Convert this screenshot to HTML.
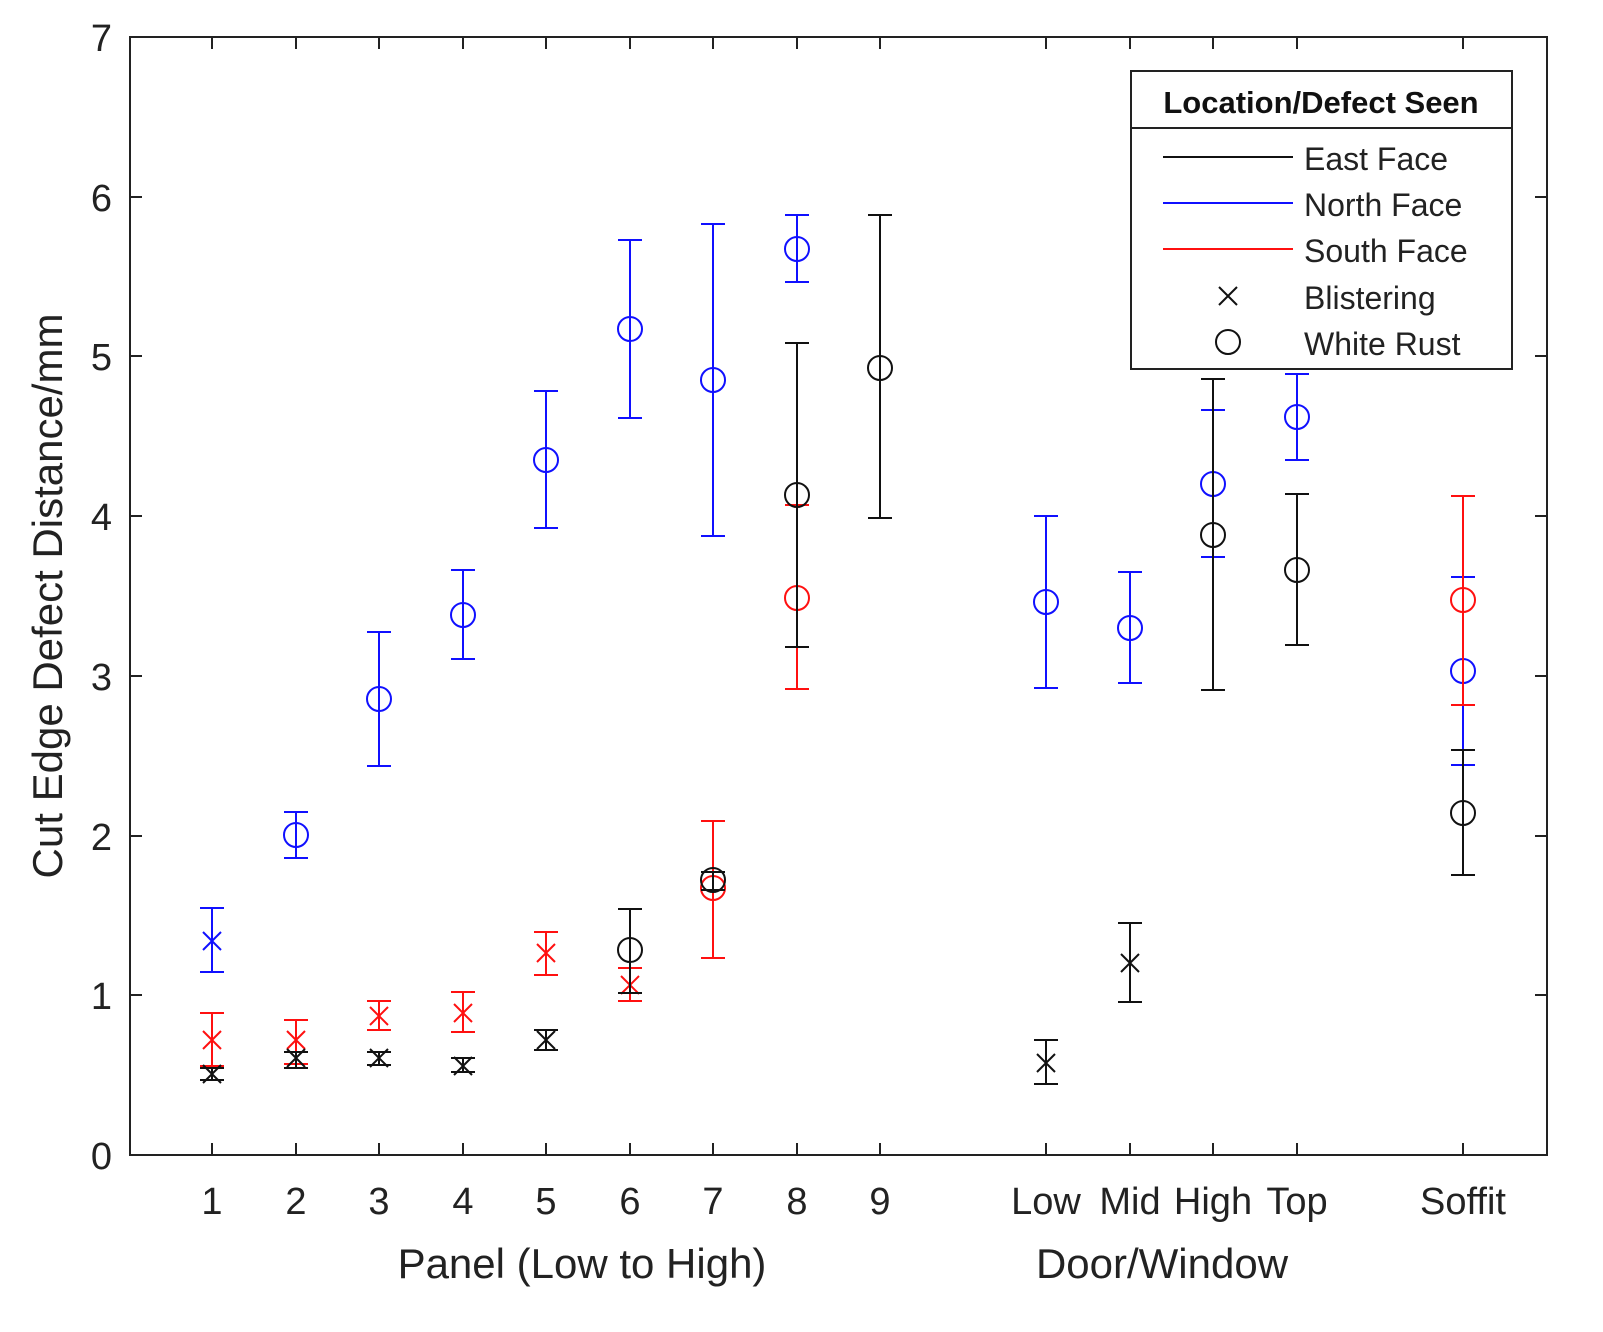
<!DOCTYPE html>
<html><head><meta charset="utf-8"><style>body{margin:0;background:#fff}svg{display:block}</style></head><body>
<svg width="1603" height="1332" viewBox="0 0 1603 1332" xmlns="http://www.w3.org/2000/svg" font-family="Liberation Sans, sans-serif">
<rect width="1603" height="1332" fill="#fff"/>
<g stroke="#222" stroke-width="2" fill="none">
<rect x="130" y="37" width="1417" height="1118"/>
<!-- y ticks -->
<path d="M130 995h12M130 836h12M130 676h12M130 516h12M130 356h12M130 197h12M1547 995h-12M1547 836h-12M1547 676h-12M1547 516h-12M1547 356h-12M1547 197h-12"/>
<!-- x ticks -->
<path d="M212 1155v-12M296 1155v-12M379 1155v-12M463 1155v-12M546 1155v-12M630 1155v-12M713 1155v-12M797 1155v-12M880 1155v-12M1046 1155v-12M1130 1155v-12M1213 1155v-12M1297 1155v-12M1463 1155v-12
M212 37v12M296 37v12M379 37v12M463 37v12M546 37v12M630 37v12M713 37v12M797 37v12M880 37v12M1046 37v12M1130 37v12M1213 37v12M1297 37v12M1463 37v12"/>
</g>
<g font-size="38" fill="#222" text-anchor="end">
<text x="112" y="1169">0</text><text x="112" y="1009">1</text><text x="112" y="850">2</text><text x="112" y="690">3</text><text x="112" y="530">4</text><text x="112" y="370">5</text><text x="112" y="211">6</text><text x="112" y="51">7</text>
</g>
<g font-size="38" fill="#222" text-anchor="middle">
<text x="212" y="1214">1</text><text x="296" y="1214">2</text><text x="379" y="1214">3</text><text x="463" y="1214">4</text><text x="546" y="1214">5</text><text x="630" y="1214">6</text><text x="713" y="1214">7</text><text x="797" y="1214">8</text><text x="880" y="1214">9</text>
<text x="1046" y="1214">Low</text><text x="1130" y="1214">Mid</text><text x="1213" y="1214">High</text><text x="1297" y="1214">Top</text><text x="1463" y="1214">Soffit</text>
<text x="582" y="1278" font-size="42">Panel (Low to High)</text>
<text x="1162" y="1278" font-size="42">Door/Window</text>
<text transform="translate(62 596) rotate(-90)" font-size="42">Cut Edge Defect Distance/mm</text>
</g>
<defs>
<g id="x"><path d="M-9 -9L9 9M-9 9L9 -9"/></g>
<g id="o"><circle r="12"/></g>
</defs>
<g fill="none" stroke-width="2">
<!-- Blue -->
<g stroke="#1010ff">
<path d="M212 908v64M200 908h24M200 972h24
M296 812v46M284 812h24M284 858h24
M379 632v134M367 632h24M367 766h24
M463 570v89M451 570h24M451 659h24
M546 391v137M534 391h24M534 528h24
M630 240v178M618 240h24M618 418h24
M713 224v312M701 224h24M701 536h24
M797 215v67M785 215h24M785 282h24
M1046 516v172M1034 516h24M1034 688h24
M1130 572v111M1118 572h24M1118 683h24
M1213 410v147M1201 410h24M1201 557h24
M1297 374v86M1285 374h24M1285 460h24
M1463 577v188M1451 577h24M1451 765h24"/>
<use href="#x" x="212" y="941"/>
<use href="#o" x="296" y="835"/><use href="#o" x="379" y="699"/><use href="#o" x="463" y="615"/><use href="#o" x="546" y="460"/><use href="#o" x="630" y="329"/><use href="#o" x="713" y="380"/><use href="#o" x="797" y="249"/><use href="#o" x="1046" y="602"/><use href="#o" x="1130" y="628"/><use href="#o" x="1213" y="484"/><use href="#o" x="1297" y="417"/><use href="#o" x="1463" y="671"/>
</g>
<!-- Red -->
<g stroke="#ff1010">
<path d="M212 1013v53M200 1013h24M200 1066h24
M296 1020v44M284 1020h24M284 1064h24
M379 1001v29M367 1001h24M367 1030h24
M463 992v40M451 992h24M451 1032h24
M546 932v43M534 932h24M534 975h24
M630 968v33M618 968h24M618 1001h24
M713 821v137M701 821h24M701 958h24
M797 505v184M785 505h24M785 689h24
M1463 496v209M1451 496h24M1451 705h24"/>
<use href="#x" x="212" y="1040"/><use href="#x" x="296" y="1040"/><use href="#x" x="379" y="1016"/><use href="#x" x="463" y="1013"/><use href="#x" x="546" y="953"/><use href="#x" x="630" y="985"/>
<use href="#o" x="713" y="888"/><use href="#o" x="797" y="598"/><use href="#o" x="1463" y="600"/>
</g>
<!-- Black -->
<g stroke="#111">
<path d="M212 1068v12M200 1068h24M200 1080h24
M296 1052v16M284 1052h24M284 1068h24
M379 1052v13M367 1052h24M367 1065h24
M463 1058v14M451 1058h24M451 1072h24
M546 1030v20M534 1030h24M534 1050h24
M630 909v84M618 909h24M618 993h24
M713 872v18M701 872h24M701 890h24
M797 343v304M785 343h24M785 647h24
M880 215v303M868 215h24M868 518h24
M1046 1040v44M1034 1040h24M1034 1084h24
M1130 923v79M1118 923h24M1118 1002h24
M1213 379v311M1201 379h24M1201 690h24
M1297 494v151M1285 494h24M1285 645h24
M1463 750v125M1451 750h24M1451 875h24"/>
<use href="#x" x="212" y="1074"/><use href="#x" x="296" y="1058"/><use href="#x" x="379" y="1058"/><use href="#x" x="463" y="1066"/><use href="#x" x="546" y="1040"/><use href="#x" x="1046" y="1063"/><use href="#x" x="1130" y="963"/>
<use href="#o" x="630" y="950"/><use href="#o" x="713" y="880"/><use href="#o" x="797" y="495"/><use href="#o" x="880" y="368"/><use href="#o" x="1213" y="535"/><use href="#o" x="1297" y="570"/><use href="#o" x="1463" y="813"/>
</g>
</g>
<!-- Legend -->
<rect x="1131" y="71" width="381" height="298" fill="#fff" stroke="#222" stroke-width="2"/>
<line x1="1131" y1="128" x2="1512" y2="128" stroke="#222" stroke-width="2"/>
<text x="1321" y="113" font-size="31" font-weight="bold" text-anchor="middle" fill="#111">Location/Defect Seen</text>
<g stroke-width="2" fill="none">
<line x1="1163" y1="157" x2="1293" y2="157" stroke="#111"/>
<line x1="1163" y1="203" x2="1293" y2="203" stroke="#1010ff"/>
<line x1="1163" y1="249" x2="1293" y2="249" stroke="#ff1010"/>
<use href="#x" x="1228" y="296" stroke="#111"/>
<use href="#o" x="1228" y="342" stroke="#111"/>
</g>
<g font-size="32" fill="#222">
<text x="1304" y="170">East Face</text><text x="1304" y="216">North Face</text><text x="1304" y="262">South Face</text><text x="1304" y="309">Blistering</text><text x="1304" y="355">White Rust</text>
</g>
</svg>
</body></html>
